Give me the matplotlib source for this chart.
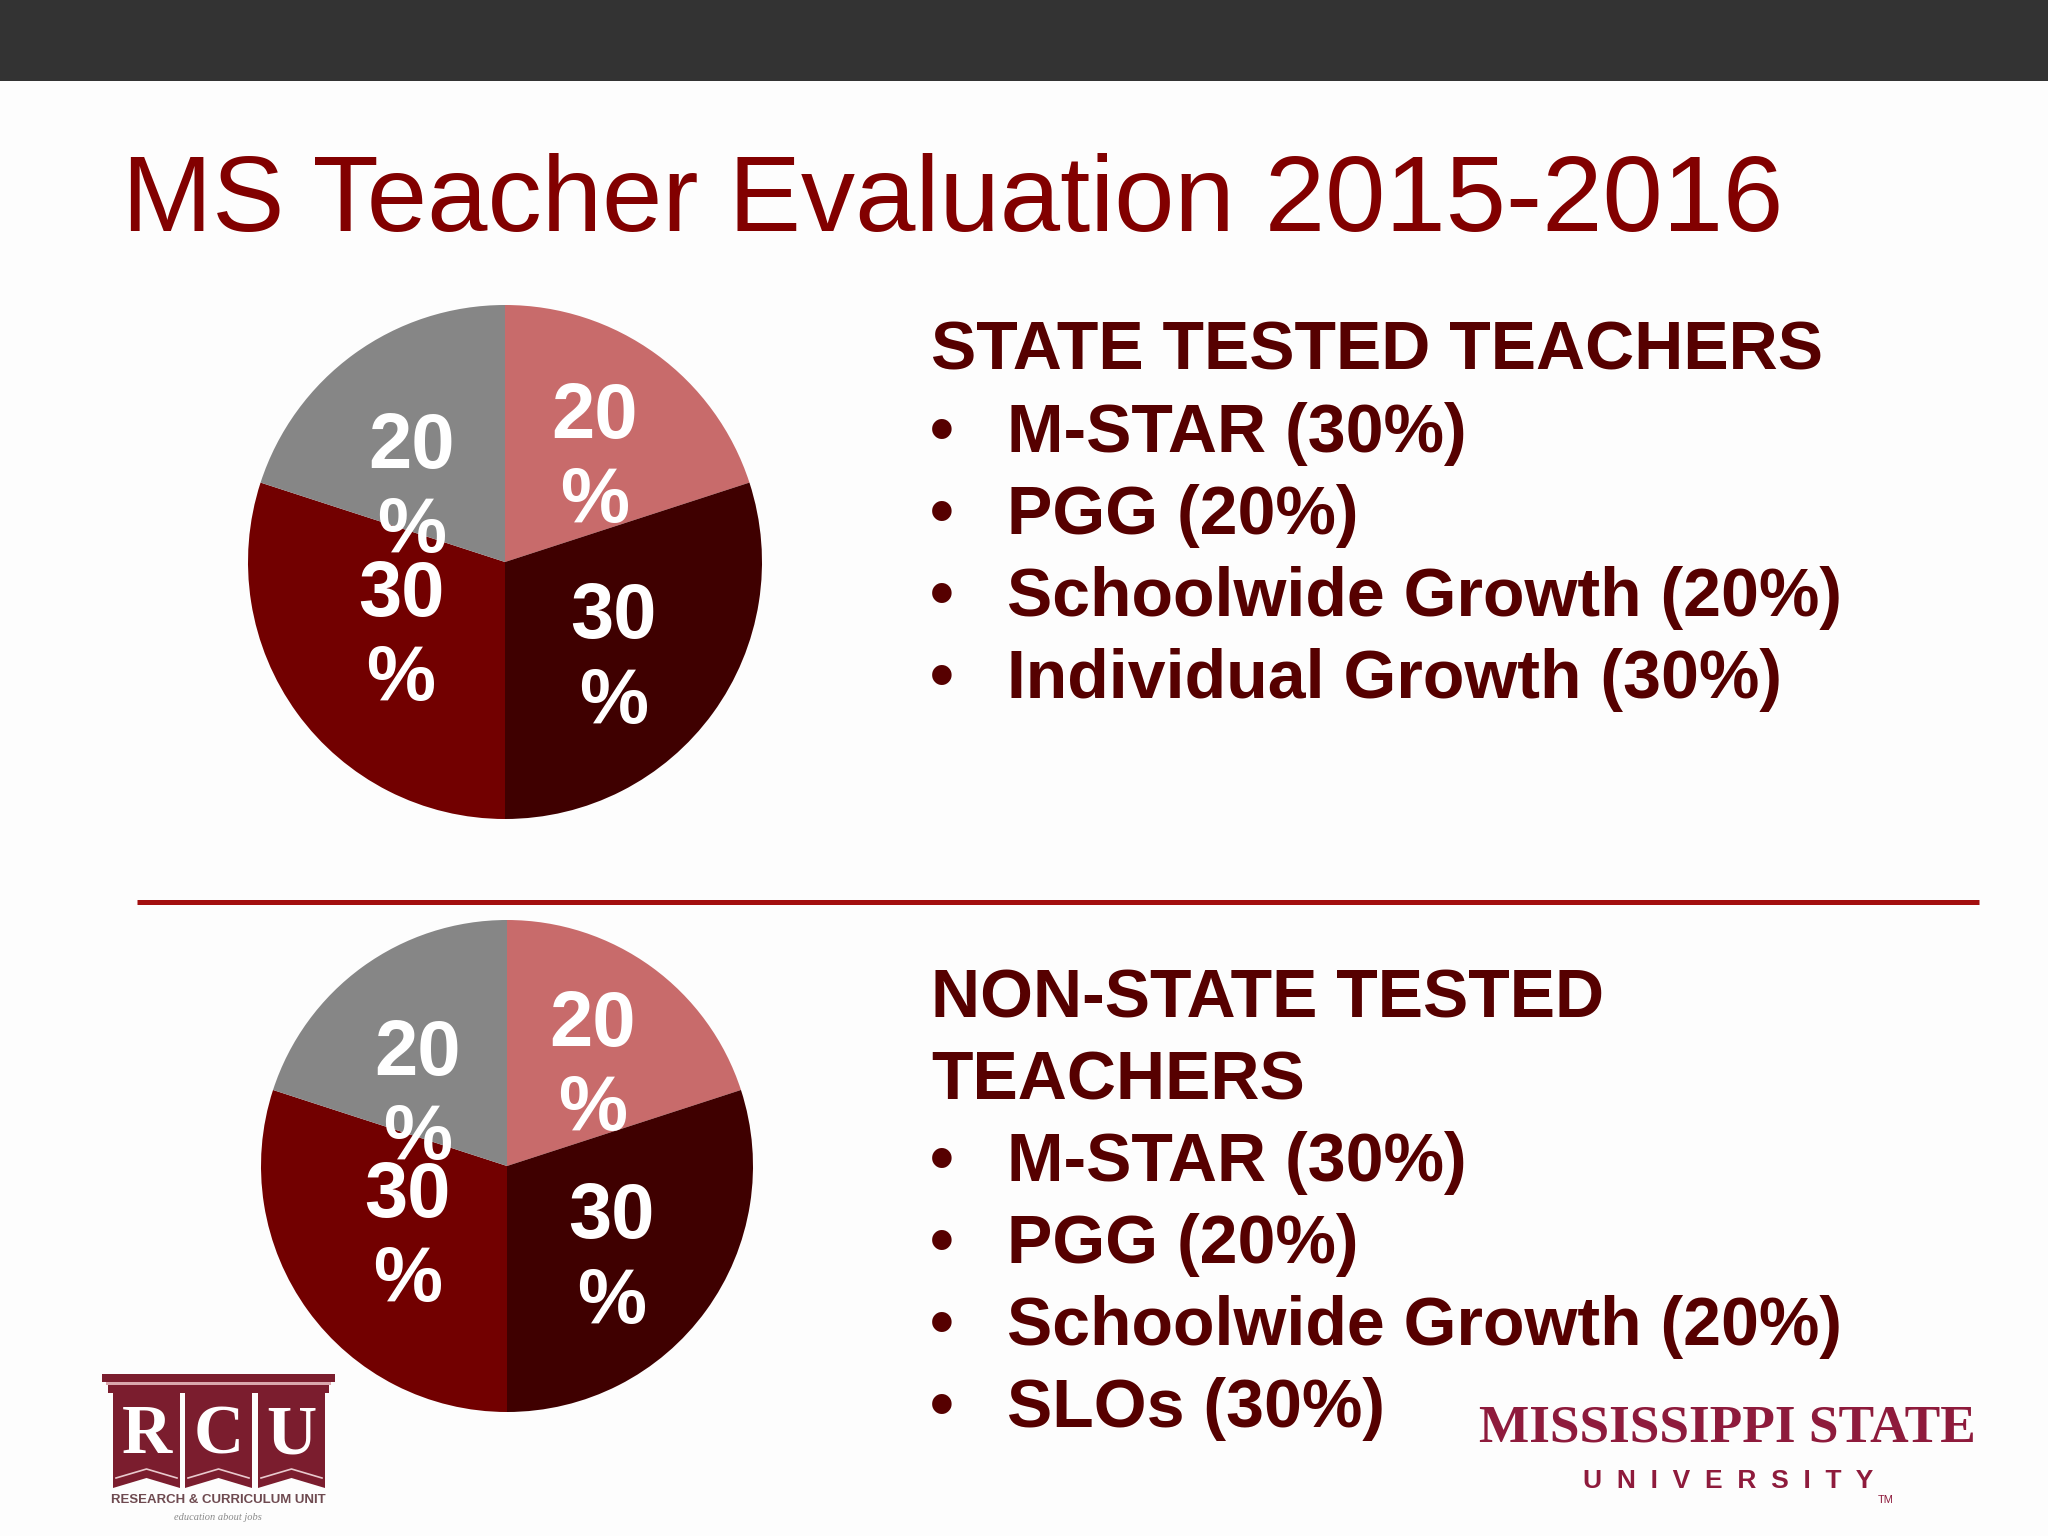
import matplotlib
matplotlib.use('Agg')
from matplotlib import pyplot as plt
from matplotlib.patches import Rectangle, Polygon
import numpy as np

# slice shares, clockwise from 12 o'clock
shares = [20, 30, 30, 20]
slice_colors = ['#c86b6b', '#3f0000', '#720000', '#868686']

title = 'MS Teacher Evaluation 2015-2016'
top_heading = ['STATE TESTED TEACHERS']
top_items = ['M-STAR (30%)', 'PGG (20%)', 'Schoolwide Growth (20%)',
             'Individual Growth (30%)']
bottom_heading = ['NON-STATE TESTED', 'TEACHERS']
bottom_items = ['M-STAR (30%)', 'PGG (20%)', 'Schoolwide Growth (20%)',
                'SLOs (30%)']

W, H = 2048, 1536
fig = plt.figure(figsize=(W / 100, H / 100), dpi=100)
fig.patch.set_facecolor('#fdfdfd')

# full-figure pixel axes for the slide decoration
bg = fig.add_axes([0, 0, 1, 1])
bg.set_xlim(0, W)
bg.set_ylim(H, 0)
bg.axis('off')

sans = 'Liberation Sans'
maroon_txt = '#560000'

bg.add_patch(Rectangle((0, 0), W, 81, color='#333333', lw=0))
bg.text(122, 231, title, fontsize=78, family=sans, color='#820000',
        va='baseline', ha='left')
bg.plot([137, 1979], [902, 902], color='#a30f0f', lw=3.6, solid_capstyle='butt')


def text_block(heading, items, y0, step=82):
    y = y0
    for line in heading:
        bg.text(931, y, line, fontsize=49, family=sans, weight='bold',
                color=maroon_txt, va='baseline')
        y += step
    for it in items:
        bg.text(930, y, '\u2022', fontsize=49, family=sans, weight='bold',
                color=maroon_txt, va='baseline')
        bg.text(1007, y, it, fontsize=49, family=sans, weight='bold',
                color=maroon_txt, va='baseline')
        y += step


text_block(top_heading, top_items, 370)
text_block(bottom_heading, bottom_items, 1017)

# label placement inside each slice (fraction of radius, angle shift in deg)
lab_dist = [0.53, 0.57, 0.50, 0.46]
lab_shift = [-5, -6, 0, 16]


def pie(rect):
    ax = fig.add_axes(rect)
    wedges, _, pcts = ax.pie(
        shares, colors=slice_colors, startangle=90, counterclock=False,
        radius=1, autopct=lambda p: '{:.0f}\n%'.format(p),
        wedgeprops=dict(linewidth=0),
        textprops=dict(color='white', fontsize=56, family=sans,
                       weight='bold', linespacing=1.2))
    for w, t, d, s in zip(wedges, pcts, lab_dist, lab_shift):
        ang = np.deg2rad((w.theta1 + w.theta2) / 2 + s)
        t.set_position((d * np.cos(ang), d * np.sin(ang)))
    ax.set_xlim(-1, 1)
    ax.set_ylim(-1, 1)
    ax.set_aspect('auto')
    ax.axis('off')


pie([248 / W, 1 - 819 / H, 514 / W, 514 / H])
pie([261 / W, 1 - 1412 / H, 492 / W, 492 / H])

# RCU logo
logo = '#7b1d2e'
bg.add_patch(Rectangle((102, 1374), 233, 8, color=logo, lw=0))
bg.add_patch(Rectangle((106, 1382), 225, 3, color='#d9a7ad', lw=0))
bg.add_patch(Rectangle((108, 1385), 221, 8, color=logo, lw=0))
for x0, letter in zip([113, 185, 258], ['R', 'C', 'U']):
    x1 = x0 + 67
    xm = (x0 + x1) / 2
    bg.add_patch(Polygon([(x0, 1393), (x1, 1393), (x1, 1488), (xm, 1478),
                          (x0, 1488)], closed=True, color=logo, lw=0))
    bg.plot([x0 + 3, xm, x1 - 3], [1478, 1469, 1478], color='#e8c9cd', lw=1.2)
    bg.text(xm, 1436, letter, fontsize=50, family='Liberation Serif',
            weight='bold', color='white', ha='center', va='center')
bg.text(218, 1500, 'RESEARCH & CURRICULUM UNIT', fontsize=9.5, family=sans,
        weight='bold', color='#6e4a50', ha='center', va='center')
bg.text(218, 1518, 'education about jobs', fontsize=7.5, family='Liberation Serif',
        style='italic', color='#8a8a8a', ha='center', va='center')

# Mississippi State wordmark
msu = '#8e1b3c'
mt = bg.text(1727, 1429, 'MISSISSIPPI STATE', fontsize=60,
             family='Liberation Serif', weight='bold', color=msu,
             ha='center', va='center')
fig.canvas.draw()
wpx = mt.get_window_extent().width
mt.set_fontsize(60 * 498 / wpx)
bg.text(1728, 1481, 'U  N  I  V  E  R  S  I  T  Y', fontsize=19, family=sans,
        weight='bold', color=msu, ha='center', va='center')
bg.text(1886, 1500, 'TM', fontsize=8, family=sans, color=msu, ha='center',
        va='center')

fig.savefig('out.png', dpi=100, facecolor=fig.get_facecolor())
